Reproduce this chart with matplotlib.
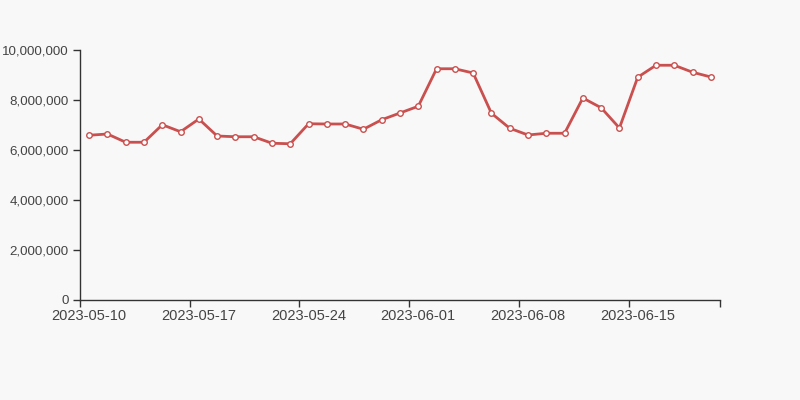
import matplotlib.pyplot as plt
import matplotlib.ticker as tick

# dates shown on the category axis (one point per date)
dates = ["2023-05-10", "2023-05-11", "2023-05-12", "2023-05-13", "2023-05-15",
         "2023-05-16", "2023-05-17", "2023-05-18", "2023-05-19", "2023-05-20",
         "2023-05-22", "2023-05-23", "2023-05-24", "2023-05-25", "2023-05-26",
         "2023-05-27", "2023-05-29", "2023-05-30", "2023-06-01", "2023-06-02",
         "2023-06-03", "2023-06-05", "2023-06-06", "2023-06-07", "2023-06-08",
         "2023-06-09", "2023-06-10", "2023-06-12", "2023-06-13", "2023-06-14",
         "2023-06-15", "2023-06-16", "2023-06-17", "2023-06-19", "2023-06-20"]

values = [6570000, 6620000, 6290000, 6290000, 6990000,
          6710000, 7220000, 6540000, 6510000, 6510000,
          6250000, 6230000, 7030000, 7020000, 7020000,
          6810000, 7190000, 7460000, 7730000, 9230000,
          9230000, 9060000, 7450000, 6850000, 6580000,
          6650000, 6650000, 8060000, 7670000, 6860000,
          8890000, 9370000, 9370000, 9090000, 8900000]

label_every = 6
bg = "#f8f8f8"
line_color = "#c9504e"
text_color = "#333333"
label_color = "#444444"

plt.rcParams["font.family"] = ["Liberation Sans", "DejaVu Sans"]

fig = plt.figure(figsize=(8, 4), dpi=100, facecolor=bg)
ax = fig.add_axes([0.1, 1 - 299.5 / 400, 0.8, 250 / 400], facecolor=bg)

n = len(dates)
xs = [i + 0.5 for i in range(n)]  # band centres, like a category axis with gaps
ax.plot(xs, values, color=line_color, linewidth=2, marker="o", markersize=4,
        markerfacecolor="white", markeredgecolor=line_color, markeredgewidth=1,
        zorder=3)

ax.set_xlim(0, n)
ax.set_ylim(0, 10000000)

# y axis
ax.yaxis.set_major_locator(tick.MultipleLocator(2000000))
ax.yaxis.set_major_formatter(tick.FuncFormatter(lambda v, p: f"{int(v):,}"))

# x axis: ticks at band boundaries, labels at band centres
ax.set_xticks(list(range(0, n, label_every)) + [n])
ax.set_xticklabels([])
ax.set_xticks([i + 0.5 for i in range(0, n, label_every)], minor=True)
ax.set_xticklabels([dates[i] for i in range(0, n, label_every)], minor=True)

ax.tick_params(axis="both", which="major", length=5, width=1, color=text_color,
               labelcolor=label_color, labelsize=9.6)
ax.tick_params(axis="x", which="minor", length=0, pad=7,
               labelcolor=label_color, labelsize=10.5)
ax.tick_params(axis="y", pad=3)

for side in ["top", "right"]:
    ax.spines[side].set_visible(False)
for side in ["left", "bottom"]:
    ax.spines[side].set_color(text_color)
    ax.spines[side].set_linewidth(1)

fig.savefig("out.png", dpi=100, facecolor=bg)
